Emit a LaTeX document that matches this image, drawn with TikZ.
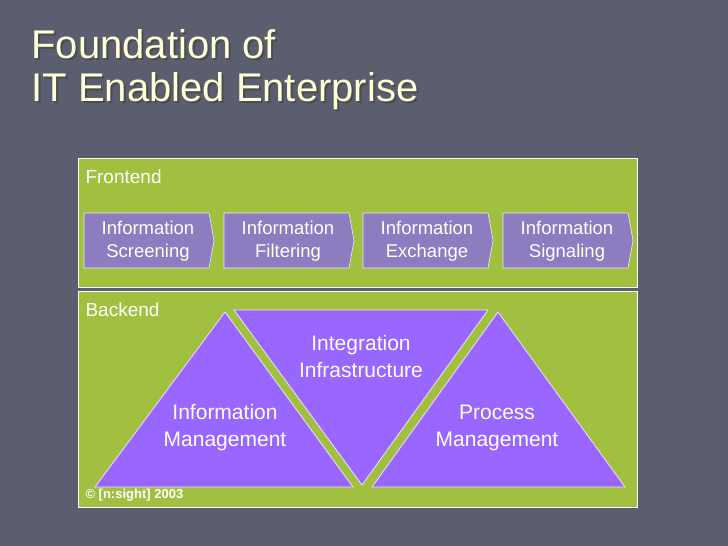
\documentclass[tikz,border=0pt]{standalone}
\usepackage{fontspec}
\setmainfont{Liberation Sans}
\begin{document}
\begin{tikzpicture}[x=1pt,y=-1pt,
  panel/.style={fill=panelgreen,draw=white,line width=0.8pt},
  chev/.style={fill=chevpurple,draw=white!85!chevpurple,line width=0.6pt},
  tri/.style={fill=tripurple,draw=white!80!tripurple,line width=0.8pt},
  lbl/.style={text=white,font=\fontsize{18.5}{23}\selectfont,align=center},
  big/.style={text=white,font=\fontsize{21}{27}\selectfont,align=center},
  title/.style={text=titlecol,font=\fontsize{40}{44}\selectfont,anchor=west}]
\definecolor{bg}{HTML}{5A5E6E}
\definecolor{panelgreen}{HTML}{A2C040}
\definecolor{chevpurple}{HTML}{8E7CC0}
\definecolor{tripurple}{HTML}{9966FF}
\definecolor{titlecol}{HTML}{FFFFD8}
\fill[bg] (0,0) rectangle (728,546);
\useasboundingbox (0,0) rectangle (728,546);
\node[title,text=black!70] (t1s) at (30,46) {Foundation of};
\node[title] (t1) at (28,44) {Foundation of};
\node[title,text=black!70] (t2s) at (30,93) {IT Enabled Enterprise};
\node[title] (t2) at (28,91) {IT Enabled Enterprise};
\draw[panel] (78,158) rectangle (637,287);
\draw[panel] (78,291) rectangle (637,507);
\node[text=white,font=\fontsize{19}{22}\selectfont,anchor=west] (fe) at (82,177) {Frontend};
\node[text=white,font=\fontsize{19}{22}\selectfont,anchor=west] (be) at (82,310) {Backend};
\node[text=white,font=\bfseries\fontsize{13}{15}\selectfont,anchor=west] (cp) at (82,495) {© [n:sight] 2003};
\foreach \x/\a/\b [count=\i] in {84/Information/Screening,224/Information/Filtering,363/Information/Exchange,503/Information/Signaling}{
  \draw[chev] (\x,213) -- (\x+125,213) -- (\x+130,240.5) -- (\x+125,268) -- (\x,268) -- cycle;
  \node[lbl] (c\i) at (\x+64,241) {\a\\\b};}
\draw[tri] (225,312) -- (353,487) -- (95,487) -- cycle;
\draw[tri] (234,310) -- (488,310) -- (362,485) -- cycle;
\draw[tri] (498,312) -- (625,487) -- (372,487) -- cycle;
\node[big] (im) at (225,428) {Information\\Management};
\node[big] (ii) at (361,356) {Integration\\Infrastructure};
\node[big] (pm) at (497,428) {Process\\Management};
\end{tikzpicture}
\end{document}
